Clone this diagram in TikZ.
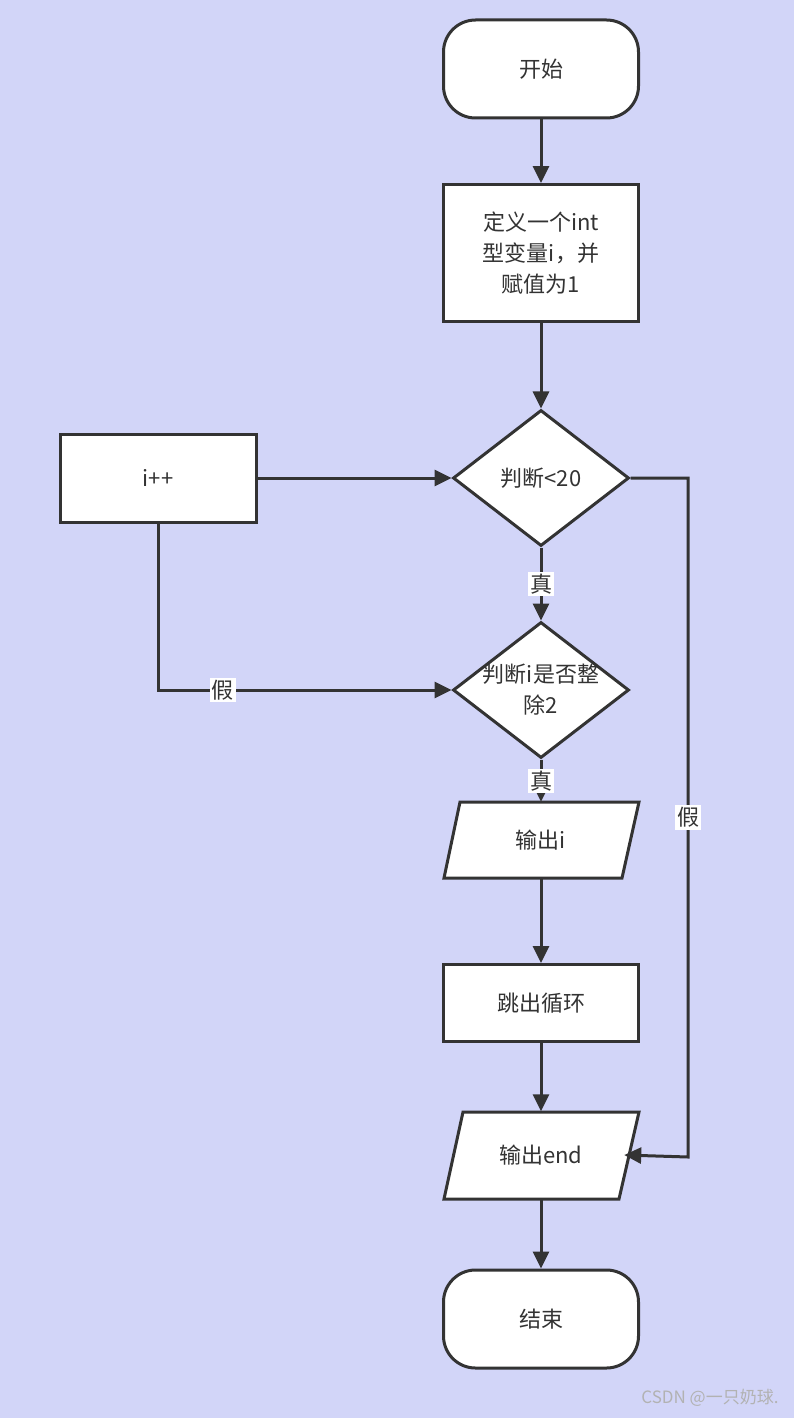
\documentclass[tikz,border=0pt]{standalone}
\usepackage{fontspec}
\setmainfont{Noto Sans CJK SC}
\usetikzlibrary{shapes.geometric,arrows.meta}
\definecolor{bg}{HTML}{D2D5F8}
\definecolor{ln}{HTML}{333333}
\begin{document}
\begin{tikzpicture}[x=1pt,y=-1pt,
  base/.style={draw=ln,line width=3pt,fill=white,font=\fontsize{22}{31}\selectfont,text=ln,align=center,inner sep=0pt},
  box/.style={base,rectangle,minimum width=195pt},
  term/.style={base,rectangle,rounded corners=32pt,minimum width=195pt,minimum height=98pt},
  dia/.style={base,diamond,minimum width=176pt,minimum height=136pt,aspect=1.3},
  para/.style={draw=none,fill=none,font=\fontsize{22}{31}\selectfont,text=ln,align=center,inner sep=0pt,minimum width=176pt},
  arr/.style={draw=ln,line width=3pt,-{Triangle[length=17pt,width=16pt]}},
  lbl/.style={fill=white,font=\fontsize{22}{26}\selectfont,text=ln,inner sep=2pt}]
\fill[bg] (0,0) rectangle (794,1418);
\useasboundingbox (0,0) rectangle (794,1418);
\node[term] (start) at (541,69) {开始};
\node[box,minimum height=137pt] (def) at (541,253) {定义一个int\\型变量i，并\\赋值为1};
\node[dia] (d1) at (541,478) {判断<20};
\node[box,minimum height=88pt,minimum width=196pt] (inc) at (158,478) {i++};
\node[dia] (d2) at (541,690) {};
\node[para] (d2t) at (d2.center) {判断i是否整\\除2};
\filldraw[draw=ln,line width=3pt,fill=white] (460,802)--(639,802)--(622,878)--(444,878)--cycle;
\node[para,minimum height=76pt] (out) at (541,840) {输出i};
\node[box,minimum height=77pt] (jump) at (541,1003) {跳出循环};
\filldraw[draw=ln,line width=3pt,fill=white] (463,1112)--(639,1112)--(619,1199)--(444,1199)--cycle;
\node[para,minimum height=87pt,minimum width=166pt] (oend) at (541,1155) {输出end};
\node[term] (end) at (541,1319) {结束};
\coordinate (r1) at (688,478);
\coordinate (r2) at (688,1157);
\coordinate (l1) at (158,690);
\draw[arr] (start) -- (def);
\draw[arr] (def) -- (d1);
\draw[arr] (inc.east) -- (d1.west);
\draw[arr] (d1) -- node[lbl,pos=0.5]{真} (d2);
\draw[arr] (d2) -- node[lbl,pos=0.5]{真} (out);
\draw[arr] (out) -- (jump);
\draw[arr] (jump) -- (oend);
\draw[arr] (oend) -- (end);
\draw[arr] (d1.east) -- (r1) -- node[lbl,pos=0.5]{假} (r2) -- (oend.east);
\draw[arr] (inc.south) -- (l1) -- node[lbl,pos=0.22]{假} (d2.west);
\node[font=\fontsize{17}{20}\selectfont,text=gray!60,anchor=east] (wm) at (782,1398) {CSDN @一只奶球.};
\end{tikzpicture}
\end{document}
